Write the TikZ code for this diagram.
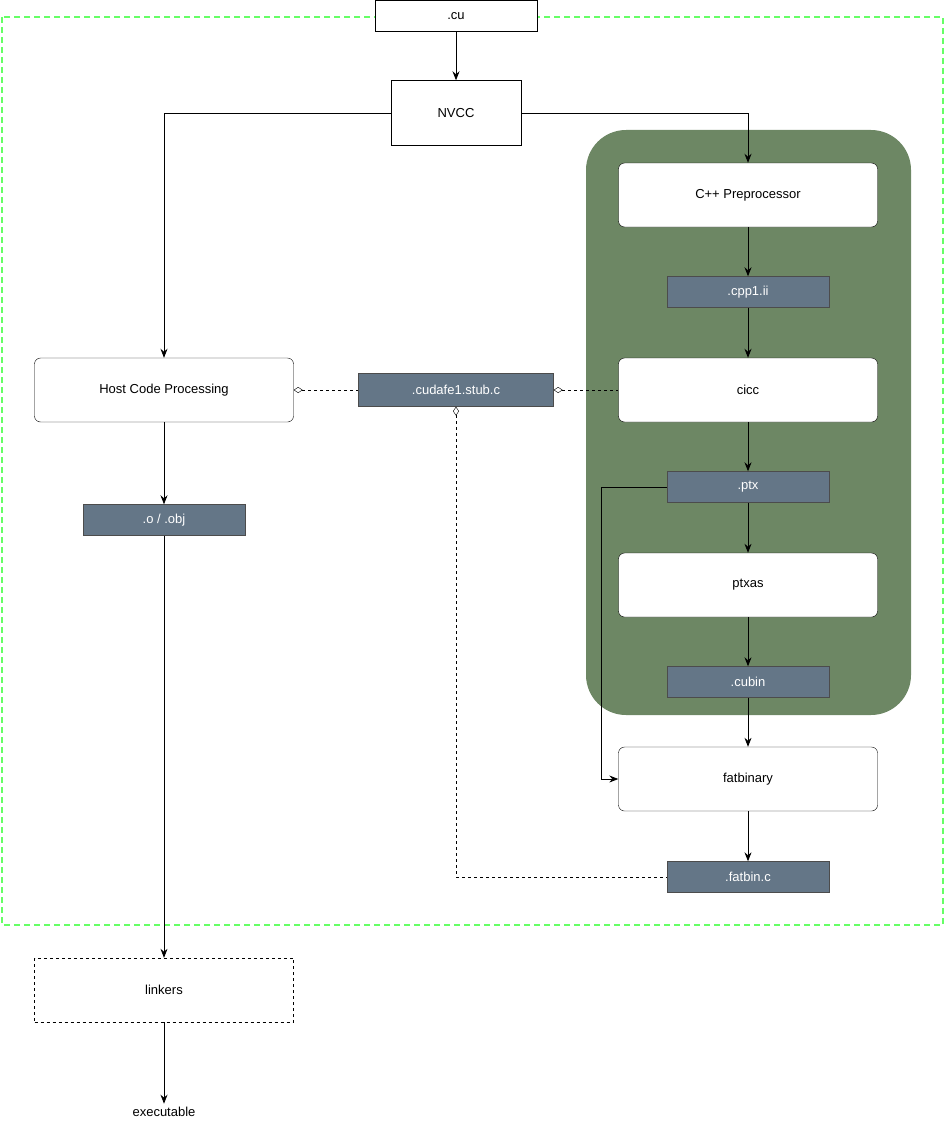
\documentclass[tikz,border=0pt]{standalone}
\usepackage{fontspec}
\setmainfont{Liberation Sans}
\usetikzlibrary{arrows.meta,positioning}
\definecolor{region}{HTML}{6D8764}
\definecolor{filebox}{HTML}{647687}
\definecolor{frame}{HTML}{66FF66}
\tikzset{
  stage/.style={draw,rounded corners=6pt,fill=white,minimum width=259pt,minimum height=64pt,font=\fontsize{13}{15}\selectfont},
  file/.style={draw=black!70,fill=filebox,text=white,minimum width=162pt,minimum height=31pt,font=\fontsize{13}{15}\selectfont},
  flow/.style={-{Stealth[length=9pt,width=7pt]},thick},
  link/.style={dashed,{Diamond[open,length=9pt,width=6pt]}-}
}
\begin{document}
\begin{tikzpicture}[x=1pt,y=-1pt]
\useasboundingbox (0,0) rectangle (945,1137);
\draw[frame,dashed,line width=1.5pt,dash pattern=on 6pt off 4pt] (2,17) rectangle (943,925);
\fill[region,rounded corners=40pt] (586,130) rectangle (911,715);

\node[draw,fill=white,minimum width=162pt,minimum height=31pt,font=\fontsize{13}{15}\selectfont] (cu) at (456,16) {.cu};
\node[stage,rounded corners=0pt,minimum width=130pt,minimum height=65pt] (nvcc) at (456,113) {NVCC};
\node[stage] (cpp) at (748,195) {C++ Preprocessor};
\node[file] (ii) at (748,292) {.cpp1.ii};
\node[stage] (cicc) at (748,390) {cicc};
\node[file] (ptx) at (748,487) {.ptx};
\node[stage] (ptxas) at (748,585) {ptxas};
\node[file] (cubin) at (748,682) {.cubin};
\node[stage] (fatbinary) at (748,779) {fatbinary};
\node[file] (fatbinc) at (748,877) {.fatbin.c};
\node[stage] (host) at (164,390) {Host Code Processing};
\node[file,minimum width=195pt,minimum height=33pt] (stub) at (456,390) {.cudafe1.stub.c};
\node[file] (obj) at (164,520) {.o / .obj};
\node[stage,rounded corners=0pt,dashed] (linkers) at (164,990) {linkers};
\node[font=\fontsize{13}{15}\selectfont] (exe) at (164,1112) {executable};

\draw[flow] (cu) -- (nvcc);
\draw[flow] (nvcc.west) -| (host.north);
\draw[flow] (nvcc.east) -| (cpp.north);
\draw[flow] (cpp) -- (ii);
\draw[flow] (ii) -- (cicc);
\draw[flow] (cicc) -- (ptx);
\draw[flow] (ptx) -- (ptxas);
\draw[flow] (ptxas) -- (cubin);
\draw[flow] (cubin) -- (fatbinary);
\draw[flow] (fatbinary) -- (fatbinc);
\draw[flow] (ptx.west) -| (601,779) -- (fatbinary.west);
\draw[flow] (host) -- (obj);
\draw[flow] (obj) -- (linkers);
\draw[flow] (linkers) -- (exe);

\draw[link] (stub.east) -- (cicc.west);
\draw[link] (host.east) -- (stub.west);
\draw[link] (stub.south) |- (fatbinc.west);
\end{tikzpicture}
\end{document}
